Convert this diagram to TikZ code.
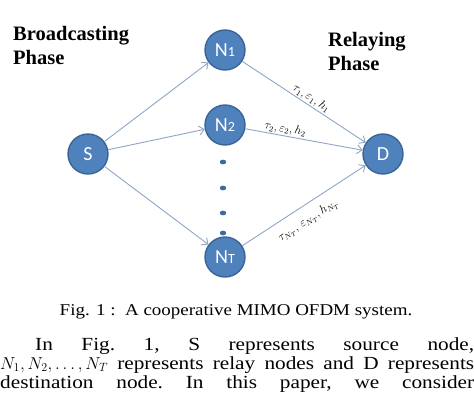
\documentclass[tikz,border=0pt]{standalone}
\usepackage{fontspec}
\setmainfont{Liberation Serif}
\newfontfamily\carlito{Carlito}
\newfontfamily\bodyfont[FakeStretch=1.15]{Liberation Serif}
\usetikzlibrary{arrows.meta}

\definecolor{nodeblue}{HTML}{4F81BD}
\definecolor{nodeedge}{HTML}{3A6496}
\definecolor{linkblue}{HTML}{8FA5C4}
\definecolor{dotblue}{HTML}{3D6AA2}

\tikzset{
  station/.style={circle, minimum size=40pt, inner sep=0pt, fill=nodeblue,
    draw=nodeedge, line width=1.4pt, text=white, font=\carlito\fontsize{20}{20}\selectfont},
  link/.style={draw=linkblue, line width=0.9pt, -{Straight Barb[length=5pt,width=9pt]}},
  phase/.style={anchor=base west, align=left, inner sep=0pt,
    font=\bfseries\fontsize{20.5}{23.5}\selectfont},
  linklabel/.style={sloped, font=\fontsize{12}{12}\selectfont, inner sep=1pt},
  textline/.style={anchor=base west, inner sep=0pt, font=\bodyfont\fontsize{18.5}{19}\selectfont}
}
\newcommand{\sub}[1]{{\fontsize{14}{14}\selectfont #1}}

\begin{document}
\begin{tikzpicture}[x=1pt,y=-1pt]
  \useasboundingbox (0,0) rectangle (474,402); % page size

  \node[phase] (bcast) at (13,64) {Broadcasting\\Phase}; % left title
  \node[phase] (relay) at (328,70) {Relaying\\Phase}; % right title

  \foreach \y in {162,188,213,233}
    \fill[dotblue] (223,\y) ellipse (3.2 and 2.4); % dots between N2 and NT

  \node[station] (s) at (88,154) {S}; % source
  \node[station] (n1) at (225,50) {N\sub{1}}; % relay 1
  \node[station] (n2) at (225,125) {N\sub{2}}; % relay 2
  \node[station] (nt) at (225,257) {N\sub{T}}; % relay T
  \node[station] (d) at (383,154) {D}; % destination

  \draw[link] (s) -- (n1); % broadcasting links
  \draw[link] (s) -- (n2);
  \draw[link] (s) -- (nt);
  \draw[link] (n1) -- node[linklabel, above, pos=0.53] {$\tau_1,\varepsilon_1,h_1$} (d); % relaying links
  \draw[link] (n2) -- node[linklabel, above, pos=0.33] {$\tau_2,\varepsilon_2,h_2$} (d);
  \draw[link] (nt) -- node[linklabel, below=8pt, pos=0.47] {$\tau_{N_T},\,\varepsilon_{N_T},h_{N_T}$} (d);

  \node[anchor=base, inner sep=0pt, font=\bodyfont\fontsize{16.5}{17}\selectfont] (caption) at (236,315)
    {Fig. 1 :\ \ A cooperative MIMO OFDM system.}; % caption

  \node[textline] (line1) at (0,350) {\hbox to 474pt{\hspace*{35pt}In\hfill Fig.\hfill 1,\hfill S\hfill represents\hfill source\hfill node,}};
  \node[textline] (line2) at (0,369) {\hbox to 474pt{$N_1,N_2,\dots,N_T$\hfill represents\hfill relay\hfill nodes\hfill and\hfill D\hfill represents}};
  \node[textline] (line3) at (0,388) {\hbox to 474pt{destination\hfill node.\hfill In\hfill this\hfill paper,\hfill we\hfill consider}};
\end{tikzpicture}
\end{document}
